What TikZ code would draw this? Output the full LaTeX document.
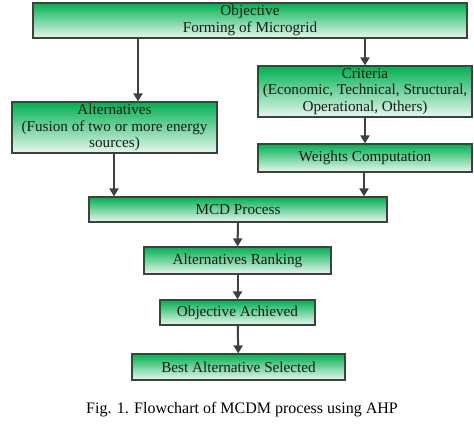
\documentclass[tikz,border=0pt]{standalone}
\usepackage{fontspec}
\setmainfont{Liberation Serif}
\usetikzlibrary{arrows.meta}
\usetikzlibrary{shadows}
\usetikzlibrary{calc}
\definecolor{boxgreen}{RGB}{0,176,80}
\definecolor{boxlight}{RGB}{232,248,238}
\definecolor{edgegray}{RGB}{64,64,64}

\begin{document}
\begin{tikzpicture}[x=1pt,y=-1pt,
  stage/.style={draw=edgegray, line width=1.2pt, top color=boxgreen, bottom color=boxlight,
    align=center, inner sep=0pt, text=black!90,
    font=\fontsize{15.2}{16.8}\selectfont,
    drop shadow={shadow xshift=1.2pt, shadow yshift=-1.2pt, fill=gray, opacity=0.5}},
  flow/.style={draw=edgegray, line width=2pt, -{Triangle[length=8pt,width=9pt]}},
]
\useasboundingbox (0,0) rectangle (474,439);

\node [stage, minimum width=434pt, minimum height=35pt] (obj) at (250,20.5)
  {Objective\\Forming of Microgrid};
\node [stage, minimum width=214pt, minimum height=51pt] (crit) at (365,91.5)
  {Criteria\\(Economic, Technical, Structural,\\Operational, Others)};
\node [stage, minimum width=205pt, minimum height=51pt] (alt) at (114.5,127.5)
  {Alternatives\\(Fusion of two or more energy\\sources)};
\node [stage, minimum width=214pt, minimum height=28pt] (wts) at (365,158)
  {Weights Computation};
\node [stage, minimum width=298pt, minimum height=25pt] (mcd) at (238,209.5)
  {MCD Process};
\node [stage, minimum width=187pt, minimum height=27pt] (rank) at (237.5,260.5)
  {Alternatives Ranking};
\node [stage, minimum width=155pt, minimum height=25pt] (ach) at (237.5,312.5)
  {Objective Achieved};
\node [stage, minimum width=213pt, minimum height=26pt] (best) at (238.5,367)
  {Best Alternative Selected};

\node [font=\fontsize{16}{18}\selectfont] (cap) at (242,410)
  {Fig. 1. Flowchart of MCDM process using AHP};

% arrows
\coordinate (objleft) at (138,0);
\coordinate (altdown) at (114,0);
\coordinate (wtsdown) at (364,0);
\draw [flow] (obj.south -| objleft) -- (alt.north -| objleft);
\draw [flow] (obj.south -| crit.north) -- (crit.north);
\draw [flow] (crit) -- (wts);
\draw [flow] (alt.south -| altdown) -- (mcd.north -| altdown);
\draw [flow] (wts.south -| wtsdown) -- (mcd.north -| wtsdown);
\draw [flow] (mcd) -- (rank);
\draw [flow] (rank) -- (ach);
\draw [flow] (ach) -- (best);
\end{tikzpicture}
\end{document}
